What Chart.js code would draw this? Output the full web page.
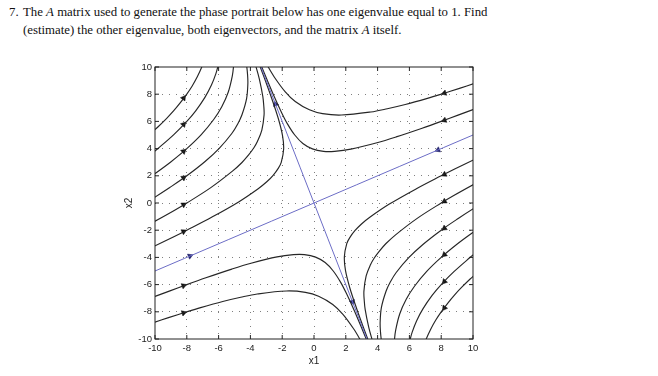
<!DOCTYPE html>
<html>
<head>
<meta charset="utf-8">
<script src="https://cdn.jsdelivr.net/npm/chart.js@4/dist/chart.umd.min.js"></script>
<style>
  html, body { margin: 0; padding: 0; background: #fff; }
  body { width: 658px; height: 376px; position: relative; overflow: hidden; }
  .q { position: absolute; font-family: "Liberation Serif", "DejaVu Serif", serif; font-size: 12.8px; line-height: 1; color: #111; white-space: nowrap; }
  #chart { position: absolute; left: 0; top: 0; }
</style>
</head>
<body>
<div class="q" style="left:9px;top:6px">7.</div>
<div class="q" style="left:23px;top:6px">The <i>A</i> matrix used to generate the phase portrait below has one eigenvalue equal to 1. Find</div>
<div class="q" style="left:23px;top:24px">(estimate) the other eigenvalue, both eigenvectors, and the matrix <i>A</i> itself.</div>
<canvas id="chart" width="658" height="376"></canvas>
<script>
const tickValues = [-10, -8, -6, -4, -2, 0, 2, 4, 6, 8, 10];

// trayectorias que salen por la izquierda (flechas en x = -8)
const curveL8 = [[-10.13,5.26],[-9.82,5.59],[-9.28,6.21],[-8.82,6.79],[-8.43,7.34],[-8.0,8.01],[-7.67,8.59],[-7.34,9.28],[-7.05,10.02],[-6.88,10.56]];
const curveL6 = [[-10.18,3.66],[-9.79,4.03],[-8.80,5.05],[-8.0,6.0],[-7.44,6.78],[-6.86,7.77],[-6.45,8.67],[-6.17,9.51],[-6.03,10.11],[-5.92,10.69]];
const curveL4 = [[-10.53,1.74],[-9.97,2.19],[-9.01,3.02],[-8.0,4.0],[-7.09,5.03],[-6.32,6.12],[-5.80,7.08],[-5.39,8.16],[-5.14,9.33],[-5.06,10.07],[-5.04,10.78]];
const curveL2 = [[-10.88,-0.19],[-10.05,0.40],[-9.07,1.14],[-8.0,2.0],[-6.85,3.05],[-5.96,4.02],[-5.17,5.11],[-4.79,5.83],[-4.53,6.49],[-4.24,7.68],[-4.16,8.77],[-4.18,9.46],[-4.24,10.13],[-4.33,10.79]];
const curveL0 = [[-10.67,-1.76],[-10.0,-1.34],[-8.79,-0.55],[-8.0,0.0],[-6.49,1.13],[-5.13,2.34],[-4.53,2.98],[-4.1,3.55],[-3.78,4.06],[-3.56,4.52],[-3.28,5.36],[-3.14,6.48],[-3.16,7.17],[-3.22,7.84],[-3.44,9.13],[-3.66,10.07],[-3.90,11.0]];
const curveLm2 = [[-10.38,-3.37],[-9.99,-3.15],[-8.88,-2.52],[-8.0,-2.0],[-6.44,-1.05],[-4.74,0.08],[-3.51,1.05],[-2.97,1.56],[-2.57,2.04],[-2.25,2.55],[-2.06,2.99],[-1.91,3.95],[-1.98,4.96],[-2.25,6.23],[-2.68,7.76],[-3.05,8.97],[-3.39,10.03],[-3.63,10.79]];
const curveLm6 = [[-10.21,-6.96],[-9.91,-6.83],[-9.06,-6.46],[-8.0,-6.0],[-6.80,-5.50],[-5.17,-4.86],[-3.96,-4.43],[-2.32,-3.96],[-1.29,-3.80],[-0.60,-3.80],[0.10,-3.98],[0.70,-4.38],[1.21,-5.0],[1.67,-5.82],[2.05,-6.68],[2.51,-7.85],[2.94,-9.03],[3.29,-10.01],[3.57,-10.82]];
const curveLm8 = [[-10.07,-8.78],[-9.15,-8.43],[-8.0,-8.0],[-7.13,-7.69],[-5.74,-7.24],[-4.61,-6.93],[-3.57,-6.69],[-1.73,-6.47],[-0.54,-6.57],[0.29,-6.85],[1.18,-7.46],[1.82,-8.19],[2.49,-9.25],[2.88,-10.0],[3.18,-10.66]];

// trayectorias que salen por la derecha (flechas en x = 8)
const curveR8 = [[10.07,8.78],[9.15,8.43],[8.0,8.0],[7.13,7.69],[5.74,7.24],[4.61,6.93],[3.57,6.69],[1.73,6.47],[0.54,6.57],[-0.29,6.85],[-1.18,7.46],[-1.82,8.19],[-2.49,9.25],[-2.88,10.0],[-3.18,10.66]];
const curveR6 = [[10.21,6.96],[9.91,6.83],[9.06,6.46],[8.0,6.0],[6.80,5.50],[5.17,4.86],[3.96,4.43],[2.32,3.96],[1.29,3.80],[0.60,3.80],[-0.10,3.98],[-0.70,4.38],[-1.21,5.0],[-1.67,5.82],[-2.05,6.68],[-2.51,7.85],[-2.94,9.03],[-3.29,10.01],[-3.57,10.82]];
const curveR2 = [[10.38,3.37],[9.99,3.15],[8.88,2.52],[8.0,2.0],[6.44,1.05],[4.74,-0.08],[3.51,-1.05],[2.97,-1.56],[2.57,-2.04],[2.25,-2.55],[2.06,-2.99],[1.91,-3.95],[1.98,-4.96],[2.25,-6.23],[2.68,-7.76],[3.05,-8.97],[3.39,-10.03],[3.63,-10.79]];
const curveR0 = [[10.67,1.76],[10.0,1.34],[8.79,0.55],[8.0,0.0],[6.49,-1.13],[5.13,-2.34],[4.53,-2.98],[4.1,-3.55],[3.78,-4.06],[3.56,-4.52],[3.28,-5.36],[3.14,-6.48],[3.16,-7.17],[3.22,-7.84],[3.44,-9.13],[3.66,-10.07],[3.90,-11.0]];
const curveRm2 = [[10.88,0.19],[10.05,-0.40],[9.07,-1.14],[8.0,-2.0],[6.85,-3.05],[5.96,-4.02],[5.17,-5.11],[4.79,-5.83],[4.53,-6.49],[4.24,-7.68],[4.16,-8.77],[4.18,-9.46],[4.24,-10.13],[4.33,-10.79]];
const curveRm4 = [[10.53,-1.74],[9.97,-2.19],[9.01,-3.02],[8.0,-4.0],[7.09,-5.03],[6.32,-6.12],[5.80,-7.08],[5.39,-8.16],[5.14,-9.33],[5.06,-10.07],[5.04,-10.78]];
const curveRm6 = [[10.18,-3.66],[9.79,-4.03],[8.80,-5.05],[8.0,-6.0],[7.44,-6.78],[6.86,-7.77],[6.45,-8.67],[6.17,-9.51],[6.03,-10.11],[5.92,-10.69]];
const curveRm8 = [[10.13,-5.26],[9.82,-5.59],[9.28,-6.21],[8.82,-6.79],[8.43,-7.34],[8.0,-8.01],[7.67,-8.59],[7.34,-9.28],[7.05,-10.02],[6.88,-10.56]];

// autovectores (rectas azules)
const eigStable = [[-11, -5.5], [11, 5.5]];
const eigUnstable = [[-3.6, 10.8], [3.6, -10.8]];

// flechas: posicion y angulo de giro (grados)
const blackArrows = [[-8.2,7.72],[-8.2,5.78],[-8.2,3.8],[-8.2,1.86],[-8.2,-0.12],[-8.2,-2.1],[-8.2,-6.08],[-8.2,-8.08],
                     [8.2,8.08],[8.2,6.08],[8.2,2.1],[8.2,0.12],[8.2,-1.86],[8.2,-3.8],[8.2,-5.78],[8.2,-7.72]];
const blackArrowRot = [35, 42, 48, 54, 59, 63, 70, 73, 253, 250, 243, 239, 234, 228, 222, 215];
const blueArrows = [[-7.8,-3.9],[7.8,3.9],[-2.42,7.27],[2.42,-7.27]];
const blueArrowRot = [67, 247, -21, 159];

const BLACK_CURVES = [curveL8, curveL6, curveL4, curveL2, curveL0, curveLm2, curveLm6, curveLm8,
                      curveR8, curveR6, curveR2, curveR0, curveRm2, curveRm4, curveRm6, curveRm8];

const toXY = arr => arr.map(([x, y]) => ({ x, y }));

function lineDs(arr, color, width) {
    return {
        data: toXY(arr),
        showLine: true,
        borderColor: color,
        borderWidth: width,
        pointRadius: 0,
        tension: 0.35,
        fill: false
    };
}

const datasets = [];
datasets.push(lineDs(eigStable, "#6c6dc6", 1));
datasets.push(lineDs(eigUnstable, "#6c6dc6", 1));
for (const c of BLACK_CURVES) datasets.push(lineDs(c, "#262626", 1.15));

datasets.push({
    data: toXY(blackArrows),
    showLine: false,
    pointStyle: "triangle",
    rotation: blackArrowRot,
    pointRadius: 3.2,
    backgroundColor: "#111",
    borderColor: "#111",
    borderWidth: 0.5
});
datasets.push({
    data: toXY(blueArrows),
    showLine: false,
    pointStyle: "triangle",
    rotation: blueArrowRot,
    pointRadius: 3.2,
    backgroundColor: "#24246e",
    borderColor: "#24246e",
    borderWidth: 0.5
});

/* caja y marcas interiores al estilo MATLAB */
const boxPlugin = {
    id: "boxTicks",
    afterDatasetsDraw(chart) {
        const { ctx, chartArea: a, scales: { x, y } } = chart;
        ctx.save();
        ctx.strokeStyle = "#222";
        ctx.lineWidth = 1;
        ctx.strokeRect(a.left, a.top, a.right - a.left, a.bottom - a.top);
        ctx.beginPath();
        for (const v of tickValues) {
            const px = x.getPixelForValue(v);
            ctx.moveTo(px, a.bottom); ctx.lineTo(px, a.bottom - 4);
            ctx.moveTo(px, a.top); ctx.lineTo(px, a.top + 4);
            const py = y.getPixelForValue(v);
            ctx.moveTo(a.left, py); ctx.lineTo(a.left + 4, py);
            ctx.moveTo(a.right, py); ctx.lineTo(a.right - 4, py);
        }
        ctx.stroke();
        ctx.restore();
    }
};

const tickFont = { family: "'Liberation Sans', Arial, sans-serif", size: 9.5 };
const titleFont = { family: "'Liberation Sans', Arial, sans-serif", size: 10 };
const gridColor = ctx => (ctx.tick && Math.abs(ctx.tick.value) === 10) ? "rgba(0,0,0,0)" : "rgba(0,0,0,0.5)";

new Chart(document.getElementById("chart"), {
    type: "scatter",
    data: { datasets },
    options: {
        responsive: false,
        animation: false,
        devicePixelRatio: 1,
        layout: { padding: { left: 0, top: 67, right: 185, bottom: 0 } },
        plugins: { legend: { display: false }, tooltip: { enabled: false } },
        scales: {
            x: {
                type: "linear", min: -10, max: 10,
                afterBuildTicks: s => { s.ticks = tickValues.map(v => ({ value: v })); },
                afterFit: s => { s.height = 37; },
                ticks: { color: "#222", font: tickFont, padding: 3.5, maxRotation: 0 },
                grid: { color: gridColor, drawTicks: false, lineWidth: 1 },
                border: { display: false, dash: [1, 6] },
                title: { display: true, text: "x1", color: "#222", font: titleFont, padding: { top: 0, bottom: 9 } }
            },
            y: {
                type: "linear", min: -10, max: 10,
                afterBuildTicks: s => { s.ticks = tickValues.map(v => ({ value: v })); },
                afterFit: s => { s.width = 155; },
                ticks: { color: "#222", font: tickFont, padding: 3 },
                grid: { color: gridColor, drawTicks: false, lineWidth: 1 },
                border: { display: false, dash: [1, 6] },
                title: { display: true, text: "x2", color: "#222", font: titleFont, padding: { top: 123, bottom: 0 } }
            }
        }
    },
    plugins: [boxPlugin]
});
</script>
</body>
</html>
